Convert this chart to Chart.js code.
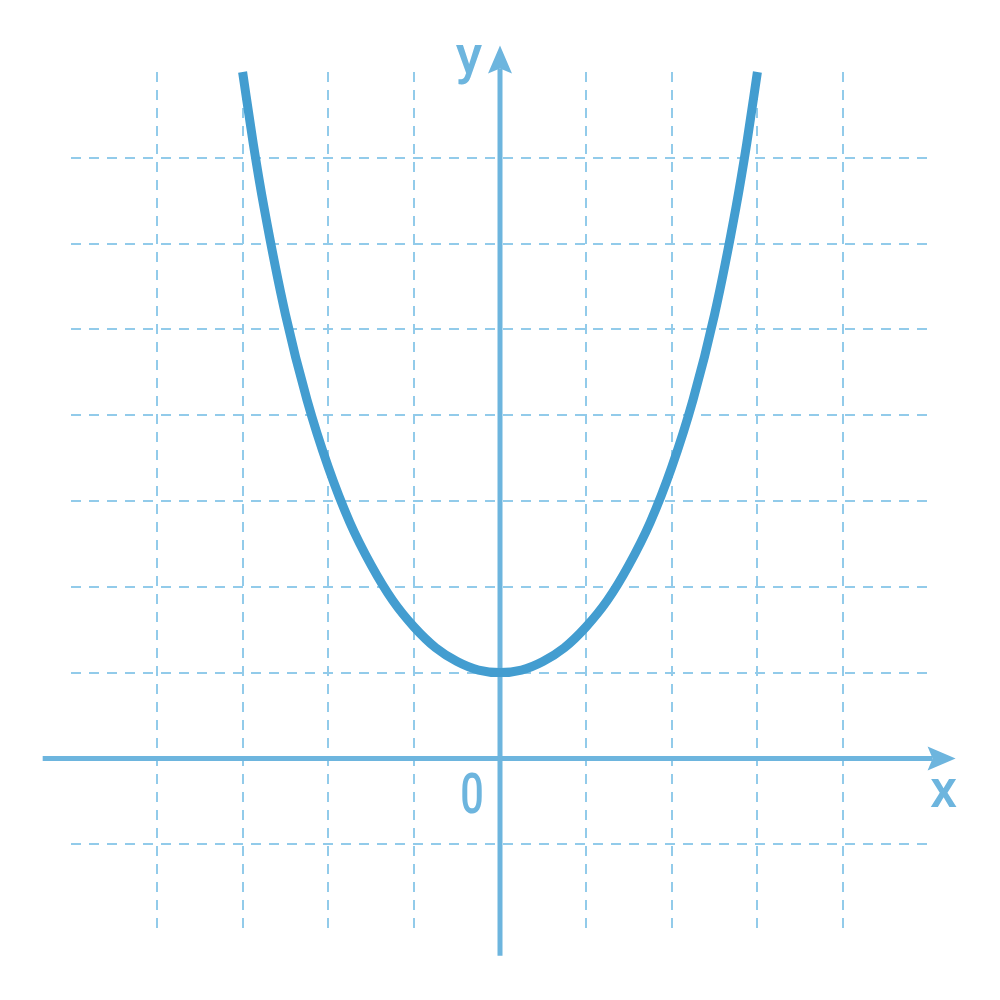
<!DOCTYPE html>
<html>
<head>
<meta charset="utf-8">
<script src="https://cdn.jsdelivr.net/npm/chart.js@4.4.1/dist/chart.umd.min.js"></script>
<style>
  html, body { margin: 0; padding: 0; background: #ffffff; }
  #wrap { width: 1000px; height: 1000px; }
</style>
</head>
<body>
<div id="wrap"><canvas id="c" width="1000" height="1000"></canvas></div>
<script>
// Data read (estimated) from the reference picture
const curveX = [-3.0, -2.875, -2.75, -2.5, -2.25, -2.0, -1.75, -1.5, -1.25, -1.0, -0.75, -0.5, -0.25, 0, 0.25, 0.5, 0.75, 1.0, 1.25, 1.5, 1.75, 2.0, 2.25, 2.5, 2.75, 2.875, 3.0];
const curveY = [8, 7.16, 6.42, 5.17, 4.18, 3.39, 2.75, 2.25, 1.84, 1.53, 1.29, 1.13, 1.03, 1, 1.03, 1.13, 1.29, 1.53, 1.84, 2.25, 2.75, 3.39, 4.18, 5.17, 6.42, 7.16, 8];
const xRange = [-5, 5];
const yRange = [-2, 8];
const xAxisExtent = [-5.33, 5.31];
const yAxisExtent = [-2.3, 8.31];
const axisNames = ['x', 'y'];
const originLabel = '0';

const CURVE = '#439dd0';
const AXIS = '#6db5de';
const GRID = '#92cbea';

const points = curveX.map((x, i) => ({ x: x, y: curveY[i] }));

function gridColor(range) {
  return (ctx) => {
    const v = ctx.tick ? ctx.tick.value : null;
    if (v === range[0] || v === range[1] || v === 0) return 'rgba(0,0,0,0)';
    return GRID;
  };
}

const axesPlugin = {
  id: 'axesPlugin',
  beforeDatasetsDraw(chart) {
    const c = chart.ctx;
    const xs = chart.scales.x, ys = chart.scales.y;
    const ox = xs.getPixelForValue(0), oy = ys.getPixelForValue(0);
    const xL = xs.getPixelForValue(xAxisExtent[0]);
    const xR = xs.getPixelForValue(xAxisExtent[1]);
    const yB = ys.getPixelForValue(yAxisExtent[0]);
    const yT = ys.getPixelForValue(yAxisExtent[1]);
    const head = 28, half = 12, notch = 5;
    c.save();
    c.strokeStyle = AXIS;
    c.fillStyle = AXIS;
    c.lineWidth = 5;
    c.lineCap = 'butt';
    // x axis
    c.beginPath();
    c.moveTo(xL, oy);
    c.lineTo(xR - head + notch, oy);
    c.stroke();
    c.beginPath();
    c.moveTo(xR, oy);
    c.lineTo(xR - head, oy - half);
    c.lineTo(xR - head + notch, oy);
    c.lineTo(xR - head, oy + half);
    c.closePath();
    c.fill();
    // y axis
    c.beginPath();
    c.moveTo(ox, yB);
    c.lineTo(ox, yT + head - notch);
    c.stroke();
    c.beginPath();
    c.moveTo(ox, yT);
    c.lineTo(ox - half, yT + head);
    c.lineTo(ox, yT + head - notch);
    c.lineTo(ox + half, yT + head);
    c.closePath();
    c.fill();
    c.restore();
  },
  afterDraw(chart) {
    const c = chart.ctx;
    const xs = chart.scales.x, ys = chart.scales.y;
    const ox = xs.getPixelForValue(0), oy = ys.getPixelForValue(0);
    const xR = xs.getPixelForValue(xAxisExtent[1]);
    const yT = ys.getPixelForValue(yAxisExtent[1]);
    c.save();
    c.fillStyle = AXIS;
    c.textAlign = 'center';
    c.textBaseline = 'alphabetic';
    c.font = '500 54px Roboto, "Noto Sans", sans-serif';
    // y label
    c.fillText(axisNames[1], ox - 31, yT + 28);
    // x label
    c.fillText(axisNames[0], xR - 12, oy + 49);
    // origin label (condensed)
    c.translate(ox - 28, oy + 55);
    c.scale(0.74, 1);
    c.font = '500 56px Roboto, "Noto Sans", sans-serif';
    c.fillText(originLabel, 0, 0);
    c.restore();
  }
};

new Chart(document.getElementById('c'), {
  type: 'scatter',
  data: {
    datasets: [{
      data: points,
      showLine: true,
      borderColor: CURVE,
      backgroundColor: CURVE,
      borderWidth: 9,
      pointRadius: 0,
      pointHoverRadius: 0,
      cubicInterpolationMode: 'monotone',
      borderCapStyle: 'butt',
      borderJoinStyle: 'round',
      clip: false
    }]
  },
  options: {
    responsive: false,
    animation: false,
    devicePixelRatio: 1,
    layout: { padding: { left: 71, right: 71, top: 72, bottom: 70 } },
    plugins: { legend: { display: false }, tooltip: { enabled: false } },
    scales: {
      x: {
        type: 'linear',
        min: xRange[0], max: xRange[1],
        ticks: { display: false, stepSize: 1 },
        grid: { color: gridColor(xRange), lineWidth: 2, drawTicks: false },
        border: { display: false, dash: [10, 8] }
      },
      y: {
        type: 'linear',
        min: yRange[0], max: yRange[1],
        ticks: { display: false, stepSize: 1 },
        grid: { color: gridColor(yRange), lineWidth: 2, drawTicks: false },
        border: { display: false, dash: [10, 8] }
      }
    }
  },
  plugins: [axesPlugin]
});
</script>
</body>
</html>
